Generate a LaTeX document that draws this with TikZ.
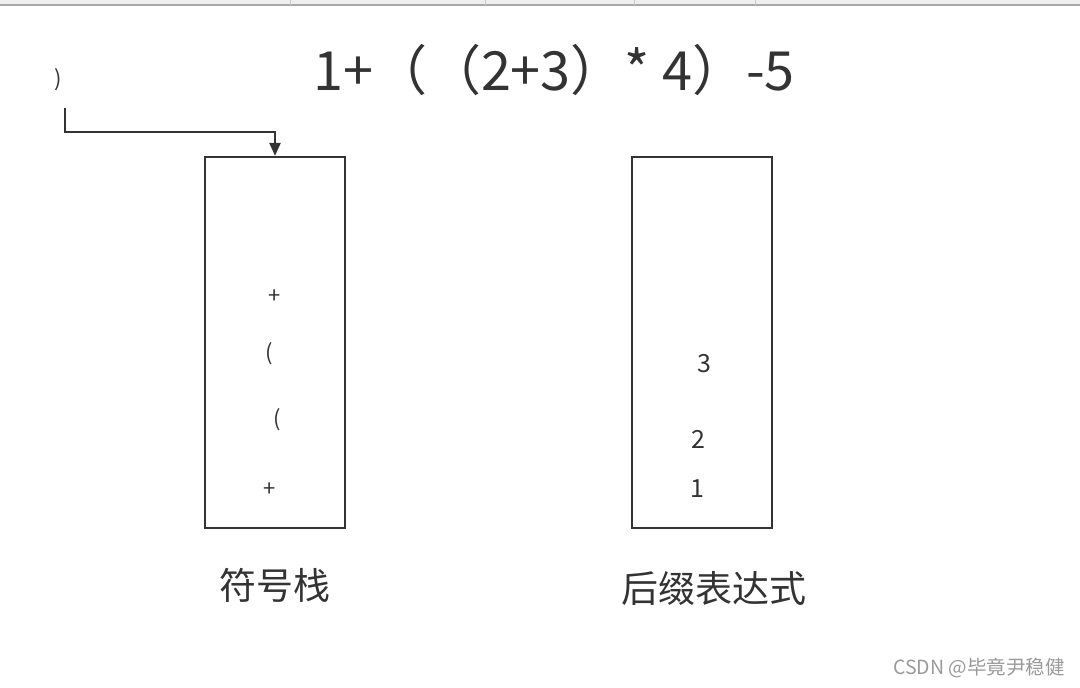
\documentclass[tikz,border=0pt]{standalone}
\usepackage{fontspec}
\setmainfont{Noto Sans CJK SC}
\usetikzlibrary{arrows.meta}
\definecolor{ink}{HTML}{333333}
\definecolor{barbg}{HTML}{EFEFEF}
\definecolor{barline}{HTML}{A8A8A8}
\definecolor{bardiv}{HTML}{C8C8C8}
\definecolor{wm}{HTML}{9A9A9A}
\begin{document}
\begin{tikzpicture}[x=1pt,y=-1pt,
  stackbox/.style={draw=ink,line width=2.2pt,minimum width=140pt,minimum height=371pt,inner sep=0pt},
  txt/.style={text=ink,inner sep=0pt,anchor=center},
  small/.style={txt,font=\fontsize{22}{22}\selectfont},
  digit/.style={txt,font=\fontsize{25}{25}\selectfont},
  caption/.style={txt,font=\fontsize{37}{37}\selectfont},
  conn/.style={draw=ink,line width=2.2pt,-{Triangle[length=13pt,width=11pt]}}]
\useasboundingbox (0,0) rectangle (1080,688);
\fill[white] (0,0) rectangle (1080,688);
% top bar
\fill[barbg] (0,0) rectangle (1080,5);
\draw[barline,line width=1.2pt] (0,5) -- (1080,5);
\foreach \x in {290,485,634,755} \draw[bardiv,line width=0.8pt] (\x,0) -- (\x,4.5);
% title
\node[txt,font=\fontsize{54}{54}\selectfont] (title) at (554,70) {1+（（2+3）* 4）-5};
% stacks
\node[stackbox] (lstack) at (275,342.5) {};
\node[stackbox] (rstack) at (702,342.5) {};
% incoming symbol
\node[small] (paren) at (58,80) {)};
\coordinate (src) at (65,108);
\draw[conn] (src) -- ++(0,24) -| (lstack.north);
% left stack contents
\node[small] (l1) at (275,297) {+};
\node[small] (l2) at (269,354) {(};
\node[small] (l3) at (277,420) {(};
\node[small] (l4) at (270,490) {+};
% right stack contents
\node[digit] (r1) at (704,364) {3};
\node[digit] (r2) at (698,439) {2};
\node[digit] (r3) at (697,489) {1};
% captions
\node[caption] (lcap) at (275,585) {符号栈};
\node[caption] (rcap) at (714,588) {后缀表达式};
% watermark
\node[txt,text=wm,font=\fontsize{19.5}{19.5}\selectfont] (wmk) at (979,668) {CSDN @毕竟尹稳健};
\end{tikzpicture}
\end{document}
